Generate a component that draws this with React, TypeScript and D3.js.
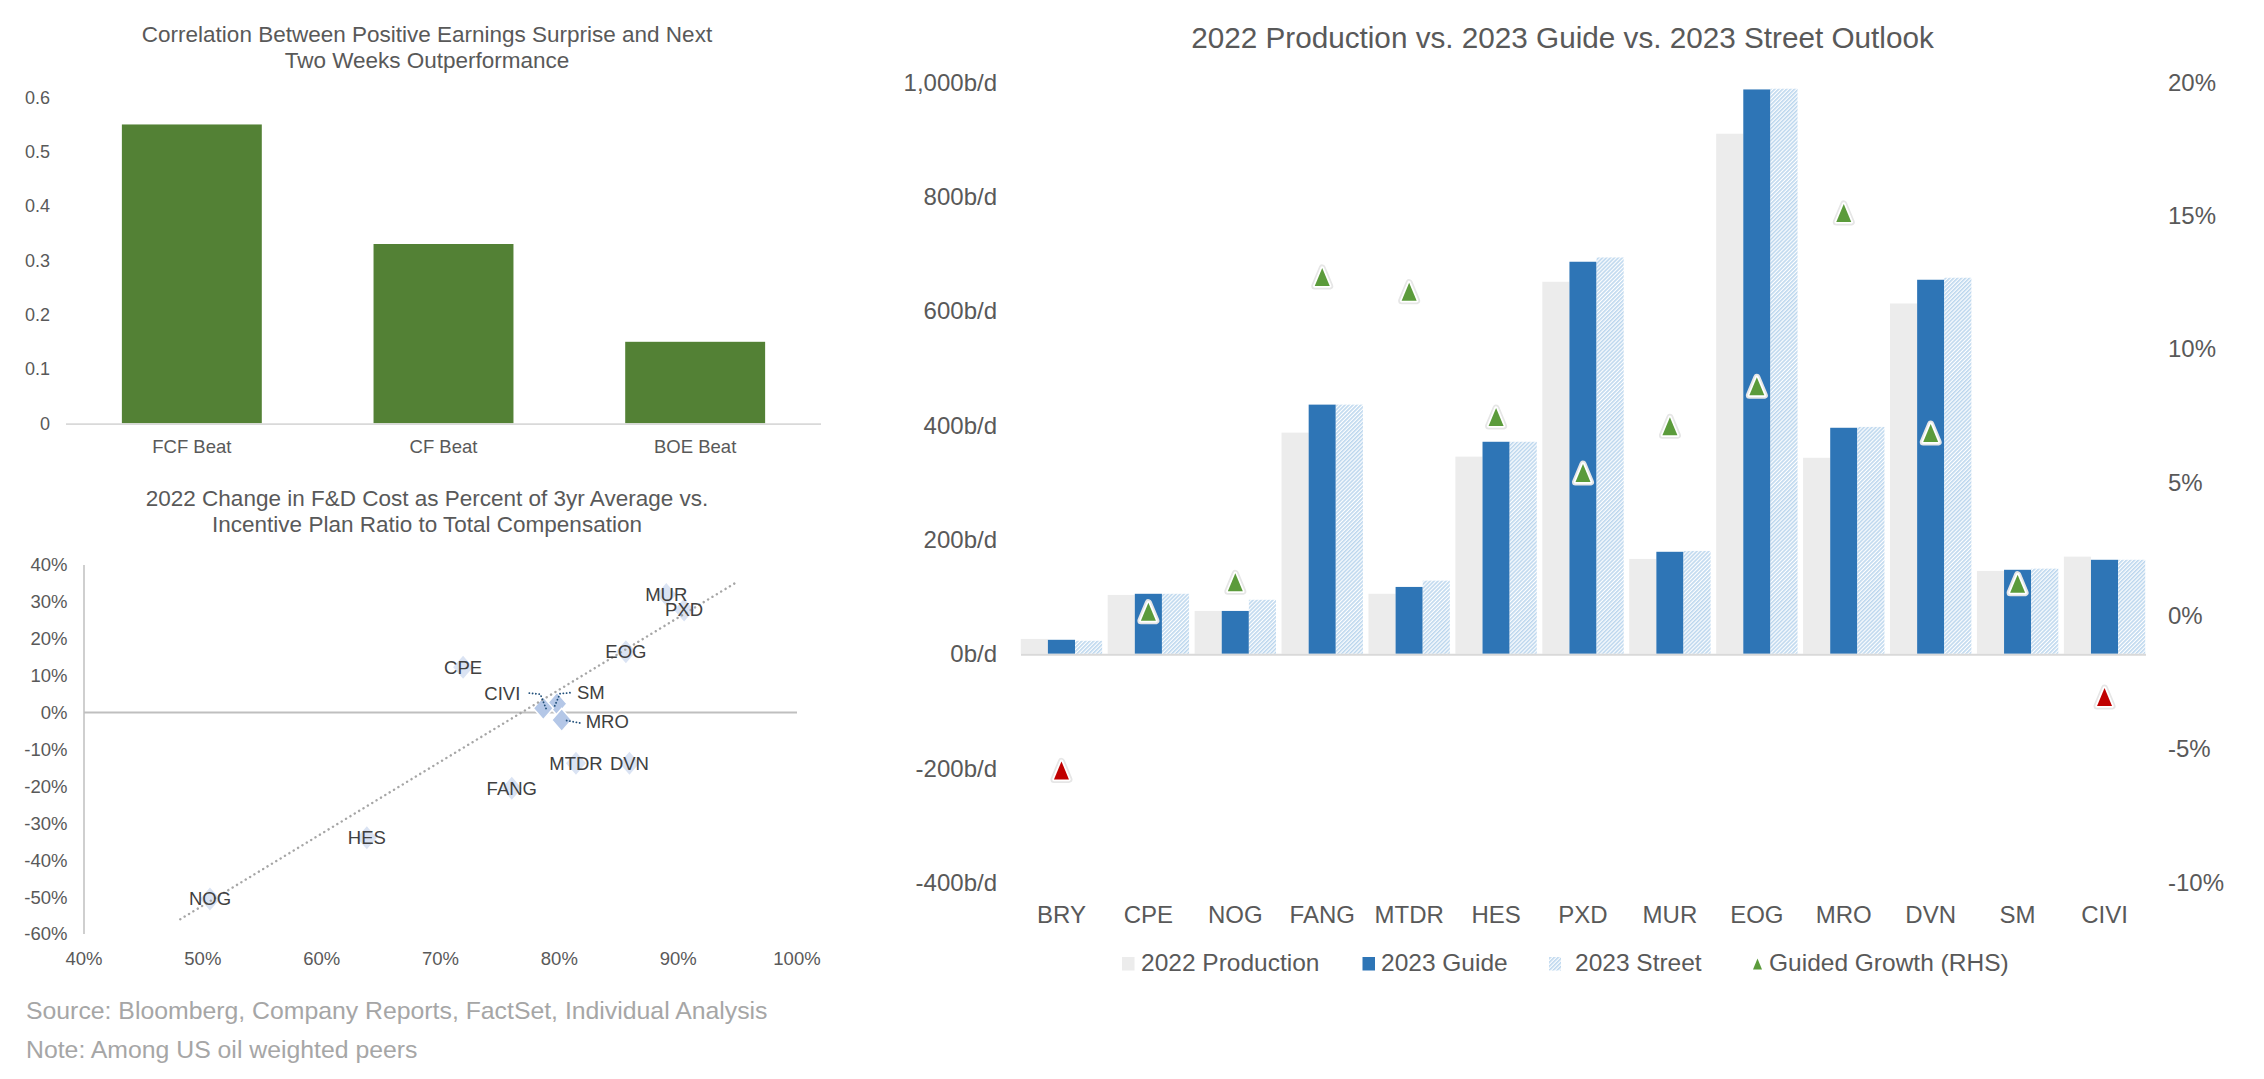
import * as d3 from 'd3'

const FONT = "'Liberation Sans', Arial, Helvetica, sans-serif"
const TEXT = '#595959'

// top-left: correlation bars
const beatCategories = ['FCF Beat', 'CF Beat', 'BOE Beat']
const beatCorrelation = [0.55, 0.33, 0.15]
const beatTicks = [0, 0.1, 0.2, 0.3, 0.4, 0.5, 0.6]

// bottom-left: F&D cost vs incentive ratio
const peerTickers = ['MUR', 'PXD', 'EOG', 'CPE', 'SM', 'MRO', 'CIVI', 'MTDR', 'DVN', 'FANG', 'HES', 'NOG']
const incentiveRatio = [89.0, 90.5, 85.6, 71.9, 79.8, 80.2, 78.65, 81.4, 85.9, 76.0, 63.8, 50.6]
const fdCostChange = [32.0, 27.8, 16.5, 12.3, 2.4, -2.0, 1.2, -13.7, -13.7, -20.5, -33.9, -50.5]
const trendX = [48.1, 95.0]
const trendY = [-56.0, 35.5]
const scatterXTicks = [40, 50, 60, 70, 80, 90, 100]
const scatterYTicks = [-60, -50, -40, -30, -20, -10, 0, 10, 20, 30, 40]

// right: production chart
const producers = ['BRY', 'CPE', 'NOG', 'FANG', 'MTDR', 'HES', 'PXD', 'MUR', 'EOG', 'MRO', 'DVN', 'SM', 'CIVI']
const production2022 = [26, 103, 75, 387, 105, 345, 651, 166, 910, 343, 613, 145, 170]
const guide2023 = [24.5, 105, 75, 436, 117, 371, 686, 178.5, 987.5, 395.5, 654.5, 147, 164.5]
const street2023 = [22.75, 105, 94.5, 436, 128, 371, 693.5, 180, 988.75, 397, 658, 149, 164.5]
const guidedGrowth = [-5.8, 0.15, 1.25, 12.7, 12.15, 7.45, 5.35, 7.1, 8.6, 15.1, 6.85, 1.2, -3.05]
const volumeTicks = [-400, -200, 0, 200, 400, 600, 800, 1000]
const growthTicks = [-10, -5, 0, 5, 10, 15, 20]
const seriesNames = ['2022 Production', '2023 Guide', '2023 Street', 'Guided Growth (RHS)']

// label tweaks for the crowded cluster (pixel offsets from the point)
const clusterLabels: Record<string, { anchor: string; dx: number; dy: number; leader: [number, number][] }> = {
  CIVI: { anchor: 'end', dx: -23, dy: -15, leader: [[-14, -15], [-3, -14], [3, 1]] },
  SM: { anchor: 'start', dx: 20, dy: -11, leader: [[13, -11], [3, -10], [-3, 4]] },
  MRO: { anchor: 'start', dx: 24, dy: 2, leader: [[18, 3], [2, 0]] },
}

const tri = (w: number, h: number) => `M0,${-h / 2}L${w / 2},${h / 2}L${-w / 2},${h / 2}Z`
const diamond = (w: number, h: number) => `M0,${-h / 2}L${w / 2},0L0,${h / 2}L${-w / 2},0Z`
const signed = (v: number, f: (n: number) => string) => (v < 0 ? '-' : '') + f(Math.abs(v))

function BeatChart() {
  const x = d3.scaleBand().domain(beatCategories).range([66, 821]).paddingInner(0.444).paddingOuter(0.222)
  const y = d3.scaleLinear().domain([0, 0.6]).range([423.3, 97.3])
  return (
    <g>
      <text x={427} y={41.5} textAnchor="middle" fontSize={22.5} fill={TEXT}>
        Correlation Between Positive Earnings Surprise and Next
      </text>
      <text x={427} y={67.5} textAnchor="middle" fontSize={22.5} fill={TEXT}>
        Two Weeks Outperformance
      </text>
      {beatTicks.map((t) => (
        <text key={t} x={50} y={y(t)} dy="0.35em" textAnchor="end" fontSize={18} fill={TEXT}>
          {d3.format('.1~f')(t)}
        </text>
      ))}
      {beatCategories.map((c, i) => (
        <rect key={c} x={x(c)} width={x.bandwidth()} y={y(beatCorrelation[i])}
          height={y(0) - y(beatCorrelation[i])} fill="#538135" />
      ))}
      <line x1={66} x2={821} y1={y(0) + 0.8} y2={y(0) + 0.8} stroke="#d9d9d9" strokeWidth={1.8} />
      {beatCategories.map((c) => (
        <text key={c} x={(x(c) ?? 0) + x.bandwidth() / 2} y={453} textAnchor="middle" fontSize={18.5} fill={TEXT}>
          {c}
        </text>
      ))}
    </g>
  )
}

function CostScatter() {
  const x = d3.scaleLinear().domain([40, 100]).range([84, 797])
  const y = d3.scaleLinear().domain([-60, 40]).range([934, 565])
  return (
    <g>
      <text x={427} y={506} textAnchor="middle" fontSize={22.5} fill={TEXT}>
        2022 Change in F&amp;D Cost as Percent of 3yr Average vs.
      </text>
      <text x={427} y={532} textAnchor="middle" fontSize={22.5} fill={TEXT}>
        Incentive Plan Ratio to Total Compensation
      </text>
      {scatterYTicks.map((t) => (
        <text key={t} x={67.5} y={y(t)} dy="0.35em" textAnchor="end" fontSize={18.5} fill={TEXT}>
          {`${t}%`}
        </text>
      ))}
      {scatterXTicks.map((t) => (
        <text key={t} x={x(t)} y={965} textAnchor="middle" fontSize={18.5} fill={TEXT}>
          {`${t}%`}
        </text>
      ))}
      <line x1={x(40)} x2={x(40)} y1={y(40)} y2={y(-60)} stroke="#bfbfbf" strokeWidth={1.5} />
      <line x1={x(40)} x2={x(100)} y1={y(0)} y2={y(0)} stroke="#bfbfbf" strokeWidth={2} />
      {peerTickers.map((t, i) => (
        <path key={t} d={diamond(20, 23)} transform={`translate(${x(incentiveRatio[i])},${y(fdCostChange[i])})`}
          fill={clusterLabels[t] ? '#b4c7e7' : '#dae3f3'} stroke={clusterLabels[t] ? '#fff' : 'none'} strokeWidth={1.5} />
      ))}
      <line x1={x(trendX[0])} y1={y(trendY[0])} x2={x(trendX[1])} y2={y(trendY[1])}
        stroke="#a6a6a6" strokeWidth={2.4} strokeDasharray="0.1 5" strokeLinecap="round" />
      {peerTickers.map((t, i) => {
        const px = x(incentiveRatio[i])
        const py = y(fdCostChange[i])
        const c = clusterLabels[t]
        if (!c) {
          return (
            <text key={t} x={px} y={py} dy="0.35em" textAnchor="middle" fontSize={18.5} fill="#404040">{t}</text>
          )
        }
        return (
          <g key={t}>
            <path d={d3.line()(c.leader.map(([a, b]) => [px + a, py + b])) ?? ''} fill="none"
              stroke="#1f4e79" strokeWidth={1.8} strokeDasharray="0.1 3.2" strokeLinecap="round" />
            <text x={px + c.dx} y={py + c.dy} dy="0.35em" textAnchor={c.anchor} fontSize={18.5} fill="#404040">{t}</text>
          </g>
        )
      })}
    </g>
  )
}

function ProductionChart() {
  const x = d3.scaleBand().domain(producers).range([1018, 2148]).paddingInner(0.064).paddingOuter(0.032)
  const inner = d3.scaleBand().domain(['p', 'g', 's']).range([0, x.bandwidth()])
  const y = d3.scaleLinear().domain([-400, 1000]).range([882.4, 82.3])
  const yR = d3.scaleLinear().domain([-10, 20]).range([882.4, 82.3])
  const fills = { p: '#ececec', g: '#2e75b6', s: 'url(#street)' }
  const series = { p: production2022, g: guide2023, s: street2023 }
  const legendX = [1122, 1362.5, 1549, 1753]
  const legendTextX = [1141, 1381, 1575, 1769]
  return (
    <g>
      <text x={1562.5} y={48} textAnchor="middle" fontSize={29.7} fill={TEXT}>
        2022 Production vs. 2023 Guide vs. 2023 Street Outlook
      </text>
      {volumeTicks.map((t) => (
        <text key={t} x={997} y={y(t)} dy="0.35em" textAnchor="end" fontSize={24} fill={TEXT}>
          {signed(t, d3.format(',')) + 'b/d'}
        </text>
      ))}
      {growthTicks.map((t) => (
        <text key={t} x={2168} y={yR(t)} dy="0.35em" textAnchor="start" fontSize={24} fill={TEXT}>
          {`${t}%`}
        </text>
      ))}
      {producers.map((c, i) => (
        <g key={c} transform={`translate(${x(c)},0)`}>
          {(['p', 'g', 's'] as const).map((k) => (
            <rect key={k} x={inner(k)} width={inner.bandwidth()} y={y(series[k][i])}
              height={y(0) - y(series[k][i])} fill={fills[k]} />
          ))}
        </g>
      ))}
      <line x1={1021} x2={2146} y1={y(0) + 1} y2={y(0) + 1} stroke="#d9d9d9" strokeWidth={2} />
      {producers.map((c, i) => {
        const cx = (x(c) ?? 0) + x.bandwidth() / 2
        const col = guidedGrowth[i] < 0 ? '#c00000' : '#5b9b3b'
        return (
          <g key={c} transform={`translate(${cx},${yR(guidedGrowth[i])})`}>
            <path d={tri(15, 18)} fill="#e6e6e6" stroke="#e6e6e6" strokeWidth={7} strokeLinejoin="round" />
            <path d={tri(15, 18)} fill="#fff" stroke="#fff" strokeWidth={3.5} strokeLinejoin="round" />
            <path d={tri(15, 18)} fill={col} />
          </g>
        )
      })}
      {producers.map((c) => (
        <text key={c} x={(x(c) ?? 0) + x.bandwidth() / 2} y={922.5} textAnchor="middle" fontSize={24} fill={TEXT}>
          {c}
        </text>
      ))}
      <rect x={legendX[0]} y={957} width={12.5} height={13.5} fill={fills.p} />
      <rect x={legendX[1]} y={957} width={12.5} height={13.5} fill={fills.g} />
      <rect x={legendX[2]} y={957} width={12} height={13.5} fill={fills.s} />
      <path d={tri(9, 11)} transform={`translate(${legendX[3] + 4.5},${964})`} fill="#5b9b3b" />
      {seriesNames.map((n, i) => (
        <text key={n} x={legendTextX[i]} y={970.5} fontSize={24.5} fill={TEXT}>{n}</text>
      ))}
    </g>
  )
}

export default function App() {
  return (
    <svg width={2264} height={1079} style={{ position: 'absolute', left: 0, top: 0, background: '#fff' }}
      fontFamily={FONT}>
      <defs>
        <pattern id="street" patternUnits="userSpaceOnUse" width={2.8} height={2.8} patternTransform="rotate(45)">
          <rect width={2.8} height={2.8} fill="#fff" />
          <rect width={1.6} height={2.8} fill="#bdd7ee" />
        </pattern>
      </defs>
      <rect width={2264} height={1079} fill="#fff" />
      <BeatChart />
      <CostScatter />
      <ProductionChart />
      <text x={26} y={1019} fontSize={24.8} fill="#a6a6a6">
        Source: Bloomberg, Company Reports, FactSet, Individual Analysis
      </text>
      <text x={26} y={1058} fontSize={24.8} fill="#a6a6a6">Note: Among US oil weighted peers</text>
    </svg>
  )
}
